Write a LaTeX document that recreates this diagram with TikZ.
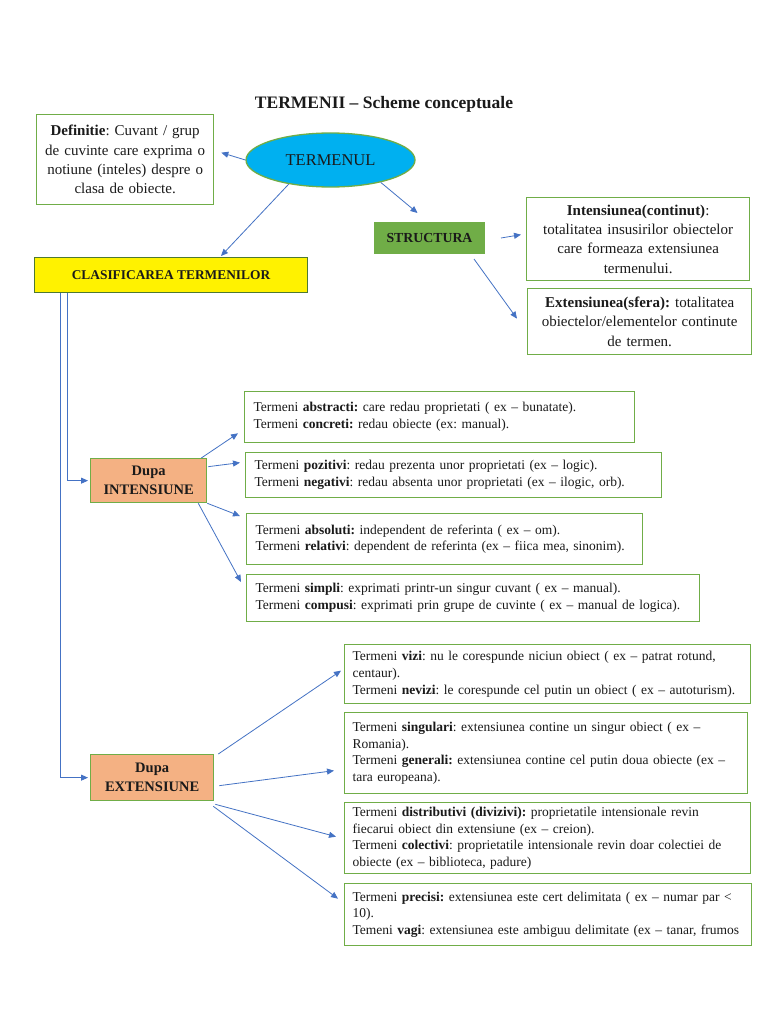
\documentclass[tikz,border=0pt]{standalone}
\usepackage{fontspec}
\setmainfont{Liberation Serif}
\usetikzlibrary{shapes.geometric,arrows.meta,calc}
\frenchspacing
\definecolor{gborder}{HTML}{70AD47}
\definecolor{arrblue}{HTML}{4472C4}
\definecolor{cyanfill}{HTML}{00B0F0}
\definecolor{salmon}{HTML}{F4B183}
\definecolor{txt}{HTML}{1A1A1A}
\tikzset{
  box/.style={draw=gborder, line width=1.3pt, fill=white, rectangle, anchor=north west, inner xsep=9pt, inner ysep=0pt, text=txt},
  lbox/.style={box, align=left, font=\frenchspacing\fontsize{13.5}{16.8}\selectfont},
  cbox/.style={box, align=center, font=\frenchspacing\fontsize{15}{19.3}\selectfont},
  catbox/.style={draw=gborder, line width=1.3pt, fill=salmon, rectangle, anchor=north west, align=center, font=\bfseries\fontsize{14.5}{19}\selectfont, text=txt},
  arr/.style={draw=arrblue, line width=0.8pt, -{Triangle[length=7pt,width=6pt]}},
}
\begin{document}
\begin{tikzpicture}[x=1pt,y=-1pt]
\useasboundingbox[fill=white] (0,0) rectangle (768,1024);

\node[font=\bfseries\fontsize{17.5}{20}\selectfont, text=txt] (title) at (384,104) {TERMENII – Scheme conceptuale};

\node[cbox, minimum width=177pt, minimum height=90pt, text width=173pt, inner xsep=2pt] (def) at (36,114)
 {\textbf{Definitie}: Cuvant / grup\\de cuvinte care exprima o\\notiune (inteles) despre o\\clasa de obiecte.};

\node[ellipse, draw=gborder, line width=1.3pt, fill=cyanfill, minimum width=169pt, minimum height=54pt, inner sep=0pt, font=\fontsize{16.5}{19}\selectfont, text=txt] (term) at (330.5,160) {TERMENUL};

\node[draw=gborder, line width=1pt, fill=gborder, rectangle, anchor=north west, minimum width=110pt, minimum height=31pt, inner sep=0pt, font=\bfseries\fontsize{13.8}{16}\selectfont, text=txt] (struct) at (374,222) {STRUCTURA};

\node[draw=gborder!70!black, line width=1pt, fill=yellow, rectangle, anchor=north west, minimum width=273pt, minimum height=35pt, inner sep=0pt, font=\bfseries\fontsize{13.4}{16}\selectfont, text=txt] (clas) at (34,257) {CLASIFICAREA TERMENILOR};

\node[cbox, minimum width=223pt, minimum height=83pt, text width=215pt, inner xsep=4pt] (ints) at (526,197)
 {\textbf{Intensiunea(continut)}:\\totalitatea insusirilor obiectelor\\care formeaza extensiunea\\termenului.};

\node[cbox, minimum width=224pt, minimum height=66pt, text width=216pt, inner xsep=4pt] (ext) at (527,288)
 {\textbf{Extensiunea(sfera):} totalitatea\\obiectelor/elementelor continute\\de termen.};

\node[catbox, minimum width=116pt, minimum height=44pt, inner sep=0pt] (dupaI) at (90,458) {Dupa\\INTENSIUNE};
\node[catbox, minimum width=123pt, minimum height=46pt, inner sep=0pt] (dupaE) at (90,754) {Dupa\\EXTENSIUNE};

\node[lbox, minimum width=390pt, minimum height=51pt, text width=372pt] (A) at (244,391)
 {Termeni \textbf{abstracti:} care redau proprietati ( ex – bunatate).\\Termeni \textbf{concreti:} redau obiecte (ex: manual).};
\node[lbox, minimum width=416pt, minimum height=45pt, text width=398pt] (B) at (245,452)
 {Termeni \textbf{pozitivi}: redau prezenta unor proprietati (ex – logic).\\Termeni \textbf{negativi}: redau absenta unor proprietati (ex – ilogic, orb).};
\node[lbox, minimum width=396pt, minimum height=51pt, text width=378pt] (C) at (246,513)
 {Termeni \textbf{absoluti:} independent de referinta ( ex – om).\\Termeni \textbf{relativi}: dependent de referinta (ex – fiica mea, sinonim).};
\node[lbox, minimum width=453pt, minimum height=47pt, text width=435pt] (D) at (246,574)
 {Termeni \textbf{simpli}: exprimati printr-un singur cuvant ( ex – manual).\\Termeni \textbf{compusi}: exprimati prin grupe de cuvinte ( ex – manual de logica).};

\node[lbox, minimum width=406pt, minimum height=59pt, text width=390pt, inner xsep=8pt] (E) at (344,644)
 {Termeni \textbf{vizi}: nu le corespunde niciun obiect ( ex – patrat rotund,\\centaur).\\Termeni \textbf{nevizi}: le corespunde cel putin un obiect ( ex – autoturism).};
\node[lbox, minimum width=403pt, minimum height=81pt, text width=387pt, inner xsep=8pt] (F) at (344,712)
 {Termeni \textbf{singulari}: extensiunea contine un singur obiect ( ex –\\Romania).\\Termeni \textbf{generali:} extensiunea contine cel putin doua obiecte (ex –\\tara europeana).};
\node[lbox, minimum width=406pt, minimum height=71pt, text width=390pt, inner xsep=8pt] (G) at (344,802)
 {Termeni \textbf{distributivi (divizivi):} proprietatile intensionale revin\\fiecarui obiect din extensiune (ex – creion).\\Termeni \textbf{colectivi}: proprietatile intensionale revin doar colectiei de\\obiecte (ex – biblioteca, padure)};
\node[lbox, minimum width=407pt, minimum height=62pt, text width=391pt, inner xsep=8pt] (H) at (344,883)
 {Termeni \textbf{precisi:} extensiunea este cert delimitata ( ex – numar par <\\10).\\Temeni \textbf{vagi}: extensiunea este ambiguu delimitate (ex – tanar, frumos};

% connectors
\draw[arr] (term.west) -- ($(def.east)+(7,-7)$);
\draw[arr] (term.210) -- ($(clas.north)+(50,-1)$);
\draw[arr] (term.336) -- ($(struct.north)+(-12,-9)$);
\draw[arr] ($(struct.east)+(16,0)$) -- ($(ints.west)+(-5,-4.5)$);
\draw[arr] ($(struct.south east)+(-11,5)$) -- ($(ext.west)+(-10,-3)$);
\draw[arr] ($(clas.south west)+(33,0)$) |- ([xshift=-2pt]dupaI.west);
\draw[arr] ($(clas.south west)+(26,0)$) |- ([xshift=-2pt]dupaE.west);
\draw[arr] ($(dupaI.north east)+(-6,0)$) -- ($(A.south west)+(-6,-10)$);
\draw[arr] ($(dupaI.east)+(1,-14)$) -- ($(B.west)+(-5,-12.5)$);
\draw[arr] (dupaI.south east) -- ($(C.north west)+(-6,3)$);
\draw[arr] ($(dupaI.south east)+(-9,0)$) -- ($(D.north west)+(-5,8)$);
\draw[arr] ($(dupaE.north east)+(4,0)$) -- ($(E.west)+(-3,-3.5)$);
\draw[arr] ($(dupaE.east)+(5,8)$) -- ($(F.west)+(-10,17.5)$);
\draw[arr] ($(dupaE.south east)+(1,3)$) -- ($(G.west)+(-8,-1.5)$);
\draw[arr] ($(dupaE.south east)+(-1,5)$) -- ($(H.west)+(-6,-16)$);
\end{tikzpicture}
\end{document}
